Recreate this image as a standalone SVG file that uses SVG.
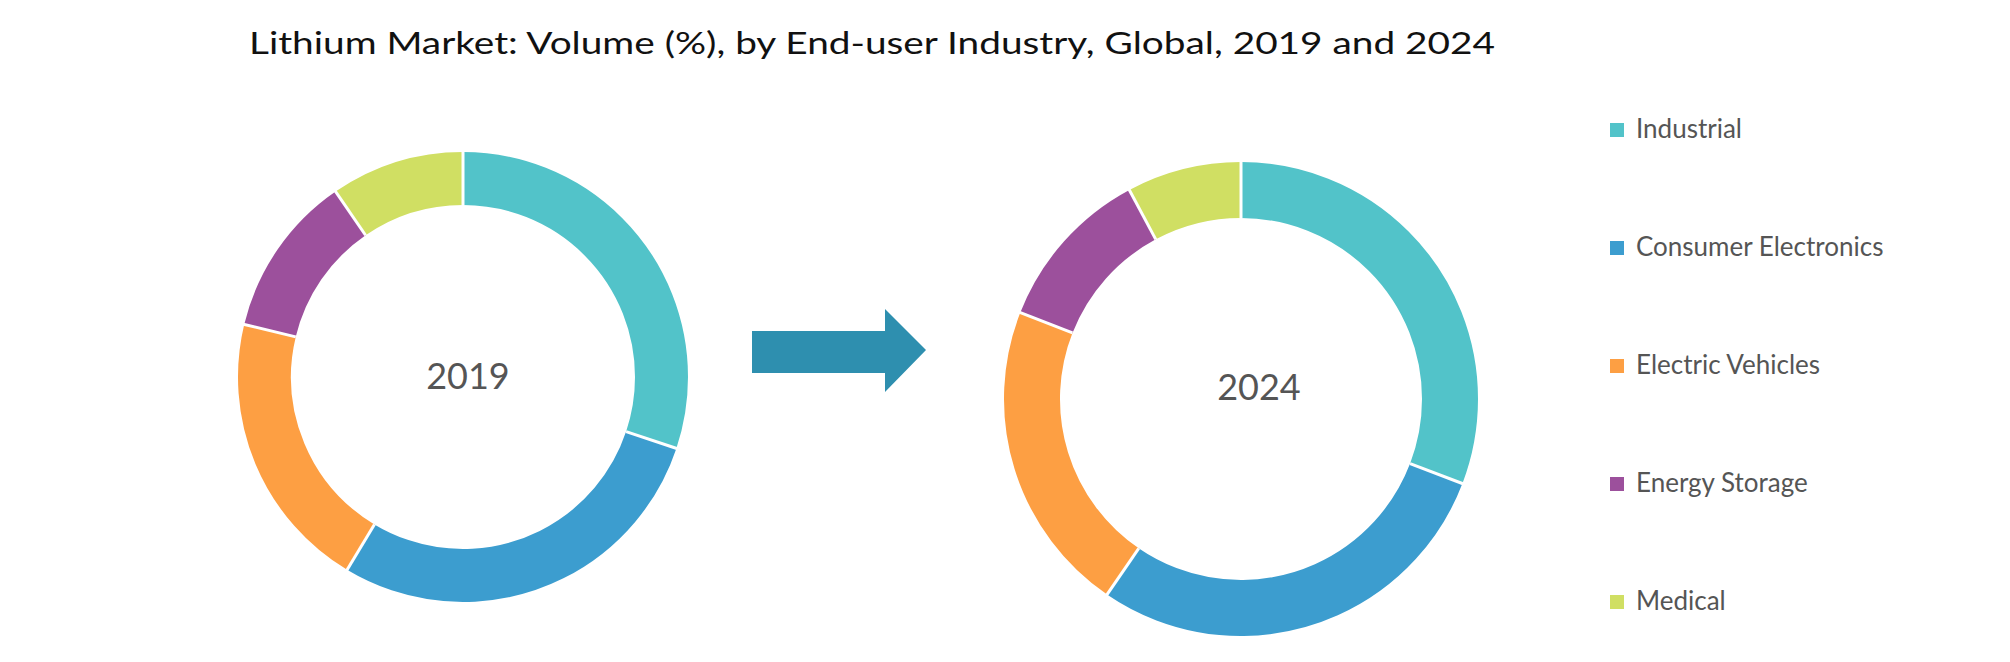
<svg xmlns="http://www.w3.org/2000/svg" width="2010" height="662" viewBox="0 0 2010 662">
<style>
.t{font-family:Lato,"Liberation Sans",sans-serif;}
.leg{font-size:26px;fill:#555;}
.ctr{font-size:36px;fill:#555;}
.sep{stroke:#fff;stroke-width:3;}
.d1{fill:none;stroke-width:53;}
.d2{fill:none;stroke-width:56;}
</style>
<rect width="2010" height="662" fill="#fff"/>
<text class="t" x="872" y="54" font-size="31" fill="#111" text-anchor="middle" textLength="1246" lengthAdjust="spacingAndGlyphs">Lithium Market: Volume (%), by End-user Industry, Global, 2019 and 2024</text>
<g id="donut-2019">
<circle class="d1" cx="463" cy="377" r="198.5" stroke="#52C3C9" stroke-dasharray="375.9 1247.2" transform="rotate(-90 463 377)"/>
<circle class="d1" cx="463" cy="377" r="198.5" stroke="#3C9DCF" stroke-dasharray="355.1 1247.2" transform="rotate(18.5 463 377)"/>
<circle class="d1" cx="463" cy="377" r="198.5" stroke="#FD9F43" stroke-dasharray="251.2 1247.2" transform="rotate(121 463 377)"/>
<circle class="d1" cx="463" cy="377" r="198.5" stroke="#9C509C" stroke-dasharray="145.5 1247.2" transform="rotate(193.5 463 377)"/>
<circle class="d1" cx="463" cy="377" r="198.5" stroke="#D0DF63" stroke-dasharray="119.5 1247.2" transform="rotate(235.5 463 377)"/>
<g class="sep">
<line x1="463" y1="205" x2="463" y2="150"/>
<line x1="463" y1="205" x2="463" y2="150" transform="rotate(108.5 463 377)"/>
<line x1="463" y1="205" x2="463" y2="150" transform="rotate(211 463 377)"/>
<line x1="463" y1="205" x2="463" y2="150" transform="rotate(283.5 463 377)"/>
<line x1="463" y1="205" x2="463" y2="150" transform="rotate(325.5 463 377)"/>
</g>
<text class="t ctr" x="468" y="389" text-anchor="middle">2019</text>
</g>
<g id="donut-2024">
<circle class="d2" cx="1241" cy="399" r="209" stroke="#52C3C9" stroke-dasharray="404.5 1313.2" transform="rotate(-90 1241 399)"/>
<circle class="d2" cx="1241" cy="399" r="209" stroke="#3C9DCF" stroke-dasharray="377.6 1313.2" transform="rotate(20.9 1241 399)"/>
<circle class="d2" cx="1241" cy="399" r="209" stroke="#FD9F43" stroke-dasharray="280.9 1313.2" transform="rotate(124.4 1241 399)"/>
<circle class="d2" cx="1241" cy="399" r="209" stroke="#9C509C" stroke-dasharray="147.7 1313.2" transform="rotate(201.4 1241 399)"/>
<circle class="d2" cx="1241" cy="399" r="209" stroke="#D0DF63" stroke-dasharray="102.5 1313.2" transform="rotate(241.9 1241 399)"/>
<g class="sep">
<line x1="1241" y1="218" x2="1241" y2="160"/>
<line x1="1241" y1="218" x2="1241" y2="160" transform="rotate(110.9 1241 399)"/>
<line x1="1241" y1="218" x2="1241" y2="160" transform="rotate(214.4 1241 399)"/>
<line x1="1241" y1="218" x2="1241" y2="160" transform="rotate(291.4 1241 399)"/>
<line x1="1241" y1="218" x2="1241" y2="160" transform="rotate(331.9 1241 399)"/>
</g>
<text class="t ctr" x="1259" y="400" text-anchor="middle">2024</text>
</g>
<g id="connectors">
<path d="M752,331 H885 V309 L926,350 L885,392 V373 H752 Z" fill="#2E8FAF"/>
</g>
<g id="legend">
<rect x="1610" y="123" width="14" height="14" fill="#52C3C9"/><text class="t leg" x="1636" y="138">Industrial</text>
<rect x="1610" y="241" width="14" height="14" fill="#3C9DCF"/><text class="t leg" x="1636" y="256">Consumer Electronics</text>
<rect x="1610" y="359" width="14" height="14" fill="#FD9F43"/><text class="t leg" x="1636" y="374">Electric Vehicles</text>
<rect x="1610" y="477" width="14" height="14" fill="#9C509C"/><text class="t leg" x="1636" y="492">Energy Storage</text>
<rect x="1610" y="595" width="14" height="14" fill="#D0DF63"/><text class="t leg" x="1636" y="610">Medical</text>
</g>
</svg>
